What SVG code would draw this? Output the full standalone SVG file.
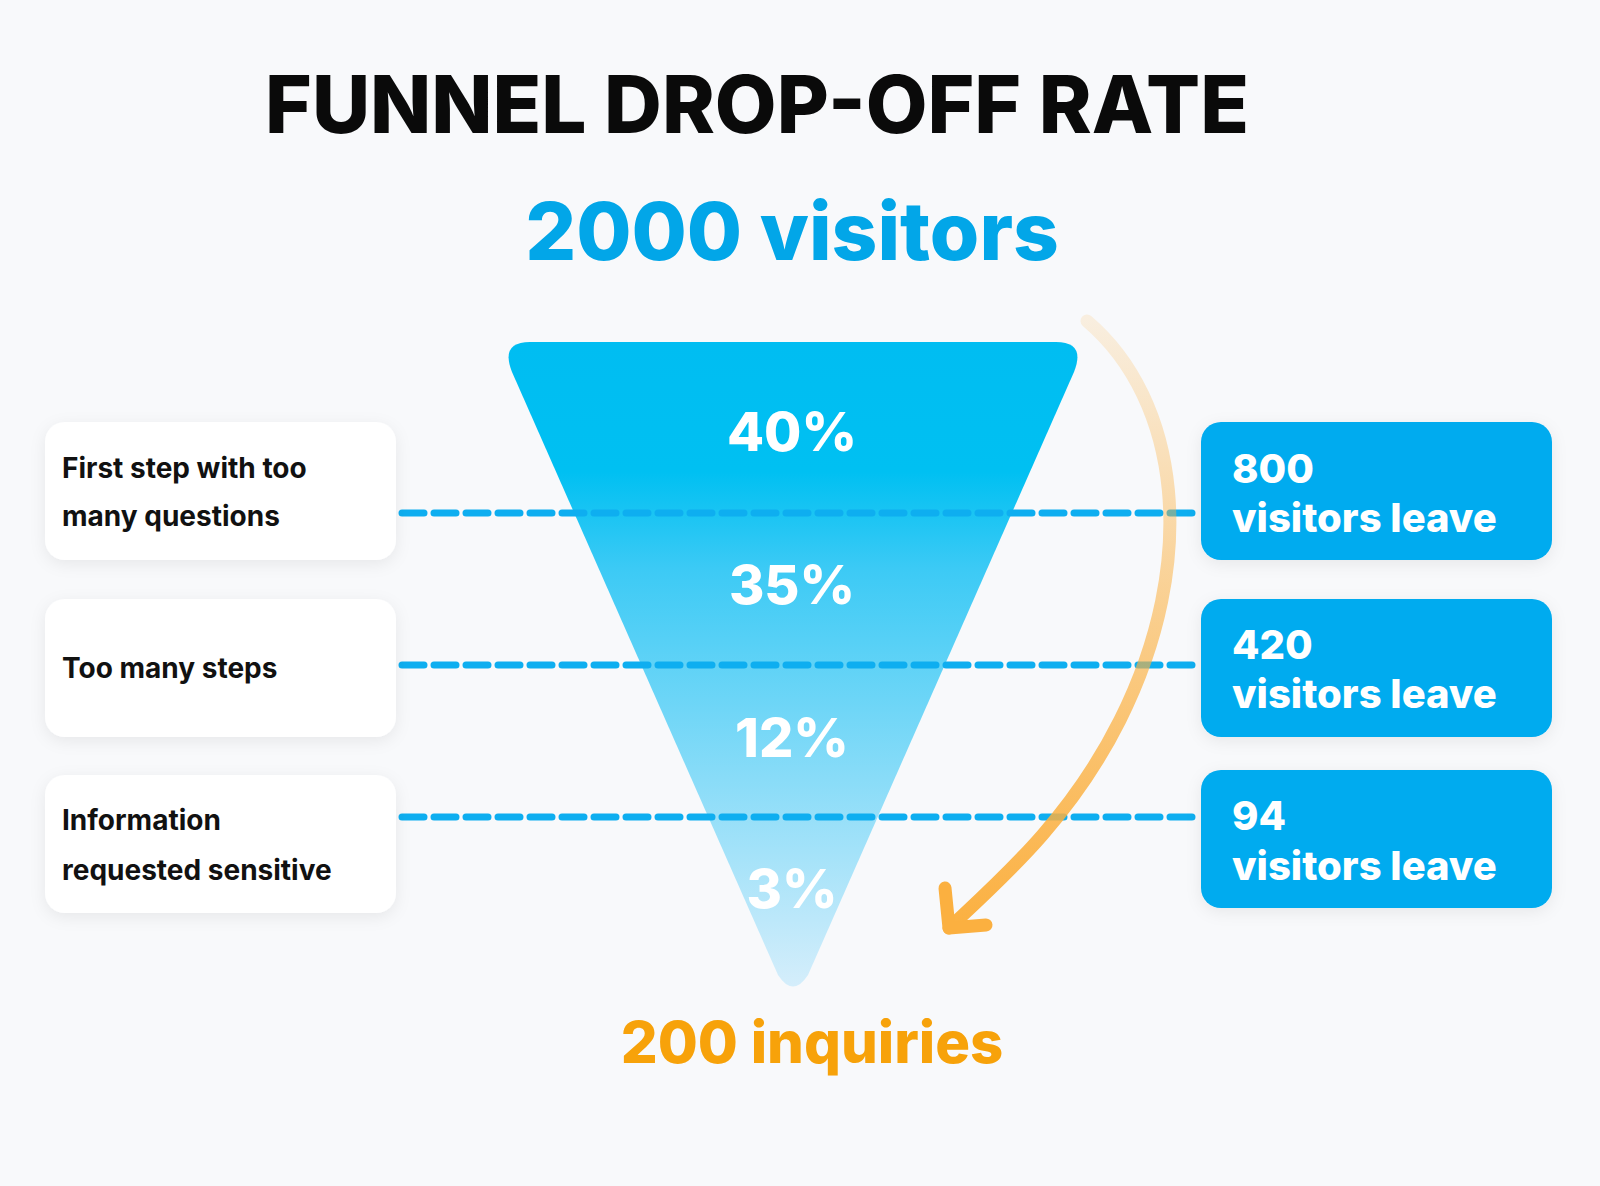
<svg xmlns="http://www.w3.org/2000/svg" width="1600" height="1186" viewBox="0 0 1600 1186">
<defs>
<linearGradient id="fg" x1="0" y1="342" x2="0" y2="990" gradientUnits="userSpaceOnUse">
<stop offset="0" stop-color="#00bdf2"/><stop offset="0.2" stop-color="#00c0f2"/><stop offset="0.35" stop-color="#3ccaf5"/><stop offset="1" stop-color="#d6eefb"/>
</linearGradient>
<linearGradient id="ag" x1="0" y1="320" x2="0" y2="930" gradientUnits="userSpaceOnUse">
<stop offset="0" stop-color="#fbb040" stop-opacity="0.15"/><stop offset="0.5" stop-color="#fbb040" stop-opacity="0.6"/><stop offset="1" stop-color="#fbb040"/>
</linearGradient>
<filter id="sh" x="-20%" y="-30%" width="140%" height="160%"><feDropShadow dx="0" dy="4" stdDeviation="8" flood-color="#000" flood-opacity="0.07"/></filter>
</defs>
<style>
.t{font-family:Inter,"Noto Sans",sans-serif;font-weight:800}
.lb{fill:#fff;filter:url(#sh)}
.rb{fill:#02abef;filter:url(#sh)}
.lt{font-family:Inter,"Noto Sans",sans-serif;font-weight:700;font-size:28px;fill:#111}
.rt{font-family:Inter,"Noto Sans",sans-serif;font-weight:800;font-size:40px;fill:#fff}
.pc{font-family:Inter,"Noto Sans",sans-serif;font-weight:800;font-size:54px;fill:#fff;text-anchor:middle}
.dl{stroke:#0eaef0;stroke-width:7;stroke-dasharray:22 10;stroke-linecap:round;fill:none}
</style>
<rect width="1600" height="1186" fill="#f8f9fb"/>
<text class="t" x="757" y="133" font-size="80" text-anchor="middle" fill="#0a0a0a">FUNNEL DROP-OFF RATE</text>
<text class="t" x="792" y="260" font-size="80" text-anchor="middle" fill="#02a6e8">2000 visitors</text>
<g id="funnel">
<path d="M530 342 L1056 342 Q1086 342 1074 372 L808 975 Q793 998 778 975 L512 372 Q500 342 530 342 Z" fill="url(#fg)"/>
<text class="pc" x="792" y="451">40%</text>
<text class="pc" x="792" y="604">35%</text>
<text class="pc" x="792" y="757">12%</text>
<text class="pc" x="792" y="908">3%</text>
</g>
<g id="connectors">
<line class="dl" x1="402" y1="513" x2="1199" y2="513"/>
<line class="dl" x1="402" y1="665" x2="1199" y2="665"/>
<line class="dl" x1="402" y1="817" x2="1199" y2="817"/>
<path d="M1087 321 C1180 400 1200 560 1120 720 C1070 820 1000 880 949 928" stroke="url(#ag)" stroke-width="13" fill="none" stroke-linecap="round"/>
<path d="M945 888 L949 928 L986 925" stroke="#fbb040" stroke-width="13" fill="none" stroke-linecap="round" stroke-linejoin="round"/>
</g>
<g id="l1"><rect class="lb" x="45" y="422" width="351" height="138" rx="20"/><text class="lt" x="62" y="478">First step with too</text><text class="lt" x="62" y="526">many questions</text></g>
<g id="l2"><rect class="lb" x="45" y="599" width="351" height="138" rx="20"/><text class="lt" x="62" y="678">Too many steps</text></g>
<g id="l3"><rect class="lb" x="45" y="775" width="351" height="138" rx="20"/><text class="lt" x="62" y="830">Information</text><text class="lt" x="62" y="880">requested sensitive</text></g>
<g id="r1"><rect class="rb" x="1201" y="422" width="351" height="138" rx="20"/><text class="rt" x="1232" y="483">800</text><text class="rt" x="1232" y="532">visitors leave</text></g>
<g id="r2"><rect class="rb" x="1201" y="599" width="351" height="138" rx="20"/><text class="rt" x="1232" y="659">420</text><text class="rt" x="1232" y="708">visitors leave</text></g>
<g id="r3"><rect class="rb" x="1201" y="770" width="351" height="138" rx="20"/><text class="rt" x="1232" y="830">94</text><text class="rt" x="1232" y="880">visitors leave</text></g>
<text class="t" x="812" y="1063" font-size="58" text-anchor="middle" fill="#f7a20a">200 inquiries</text>
</svg>
